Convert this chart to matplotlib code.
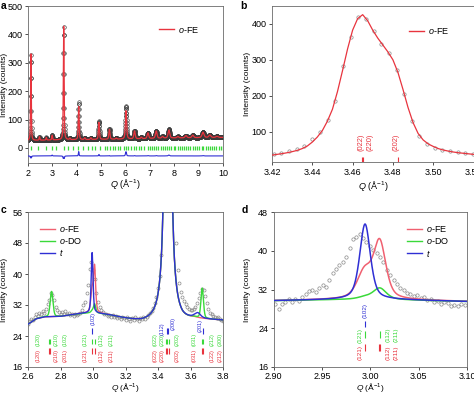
import numpy as np
import matplotlib
matplotlib.use('Agg')
import matplotlib.pyplot as plt
from matplotlib.lines import Line2D

plt.rcParams['font.family'] = ['Liberation Sans', 'DejaVu Sans']
plt.rcParams['mathtext.fontset'] = 'custom'
plt.rcParams['mathtext.it'] = 'Liberation Sans:italic'
plt.rcParams['mathtext.rm'] = 'Liberation Sans'
plt.rcParams['mathtext.sf'] = 'Liberation Sans'

RED = '#e8343e'
RED2 = '#f06070'
GREEN = '#3ad93a'
BLUE = '#2f2fd4'
OBS = '#8a8a8a'

# ---------------- data: panel a (full pattern, o-FE fit) ----------------
a_bg_q = [2, 3, 4, 5, 6, 7, 8, 9, 10]
a_bg_i = [26, 28, 29, 30, 31, 33, 35, 36, 37]
a_peak_q = [2.12, 2.47, 2.75, 2.99, 3.465, 3.72, 4.08, 4.33, 4.58, 4.91, 5.34, 5.62,
            6.02, 6.37, 6.65, 6.92, 7.26, 7.52, 7.78, 8.15, 8.48, 8.76, 9.18, 9.46, 9.75]
a_fit_h = [305, 12, 9, 16, 400, 5, 117, 6, 6, 60, 35, 4,
           100, 28, 5, 20, 26, 6, 28, 5, 8, 9, 19, 9, 4]
a_obs_h = [302, 12, 9, 19, 396, 5, 132, 6, 6, 65, 36, 4,
           115, 29, 5, 21, 27, 6, 31, 5, 8, 9, 20, 9, 4]
a_hwhm = [0.016, 0.018, 0.018, 0.019, 0.018, 0.022, 0.02, 0.024, 0.024, 0.024, 0.026, 0.028,
          0.03, 0.032, 0.034, 0.036, 0.038, 0.038, 0.04, 0.042, 0.044, 0.044, 0.05, 0.05, 0.05]
a_refl = [2.12, 2.42, 2.73, 3.0, 3.14, 3.46, 3.66, 3.86, 4.07, 4.27, 4.48, 4.62, 4.75, 4.96,
          5.16, 5.26, 5.37, 5.48, 5.58, 5.69, 5.78, 5.92, 6.02, 6.12, 6.22, 6.33, 6.43, 6.55,
          6.65, 6.74, 6.92, 7.0, 7.08, 7.16, 7.26, 7.35, 7.44, 7.53, 7.62, 7.70, 7.78, 7.88,
          7.97, 8.05, 8.14, 8.22, 8.30, 8.40, 8.48, 8.57, 8.66, 8.76, 8.85, 8.94, 9.03, 9.12,
          9.20, 9.30, 9.38, 9.47, 9.56, 9.64, 9.73, 9.82, 9.90, 9.98]
a_xticks = [2, 3, 4, 5, 6, 7, 8, 9, 10]
a_yticks = [0, 100, 200, 300, 400, 500]

# ---------------- data: panel b ----------------
b_fit_q = np.linspace(3.42, 3.52, 41)
b_fit_i = [36, 38, 40, 42.5, 45.5, 49, 54, 61, 72, 86, 104, 130, 163, 212, 270, 330,
           382, 414, 425, 408, 382, 360, 341, 322, 300, 265, 218, 168, 126, 96, 78, 67,
           60, 54, 50, 47, 44.5, 42.5, 41, 39.5, 38]
b_obs_q = [3.4208, 3.4246, 3.4286, 3.4324, 3.4361, 3.4399, 3.4439, 3.4477, 3.4515, 3.4553,
           3.4590, 3.4628, 3.4666, 3.4704, 3.4742, 3.4780, 3.4818, 3.4856, 3.4893, 3.4931,
           3.4969, 3.5007, 3.5045, 3.5083, 3.5121, 3.5159, 3.5197]
b_obs_i = [40, 43, 47, 53, 62, 80, 100, 132, 185, 282, 362, 418, 414, 380, 345, 318, 272,
           205, 130, 90, 68, 57, 51, 47, 44, 41, 39]
b_refl_q = [3.4647, 3.4653, 3.4823]
b_hkl_q = [3.4643, 3.4685, 3.4815]
b_hkl = ['(022)', '(220)', '(202)']
b_xticks = [3.42, 3.44, 3.46, 3.48, 3.50, 3.52]
b_xlabels = ['3.42', '3.44', '3.46', '3.48', '3.50', '3.52']
b_yticks = [100, 200, 300, 400]

# ---------------- data: panels c and d (common model) ----------------
cd_bg_q = [2.60, 2.65, 2.70, 2.80, 2.90, 3.00, 3.10, 3.20, 3.30, 3.38, 3.55, 3.62, 3.70, 3.80]
cd_bg_i = [27.0, 28.4, 28.9, 29.0, 29.6, 29.9, 29.3, 28.3, 27.4, 27.2, 27.1, 28.0, 28.0, 27.9]
# big common reflection (q0, amplitude, hwhm, eta)
big_peak = (3.4605, 400.0, 0.0085, 1.0)
fe_peaks = [(2.994, 5.5, 0.009, 0.5), (3.0097, 11.5, 0.0075, 0.5)]
do_peaks = [(2.745, 6.5, 0.010, 0.3), (2.994, 0.4, 0.008, 0.5), (3.0097, 2.3, 0.008, 0.5),
            (3.672, 7.7, 0.009, 0.3)]
t_peaks = [(2.9945, 15.5, 0.0065, 0.5), (3.645, 1.2, 0.02, 0.5)]

c_obs_q = np.linspace(2.60, 3.80, 121)
c_obs_i = [27.2, 27.8, 28.5, 28.2, 29.0, 29.6, 29.2, 30.0, 29.6, 30.4,
           30.0, 31.0, 32.2, 33.4, 35.0, 34.6, 33.2, 31.6, 30.6, 30.2,
           29.6, 30.2, 29.8, 30.4, 29.6, 30.0, 29.4, 29.8, 29.2, 29.6,
           29.5, 29.8, 30.0, 30.8, 32.0, 32.8, 35.2, 37.2, 41.4, 43.0,
           41.0, 38.8, 35.2, 32.8, 31.4, 30.6, 30.2, 29.6, 29.8, 29.2,
           29.4, 29.0, 29.4, 28.8, 29.2, 28.6, 28.9, 28.4, 29.0, 28.6,
           28.2, 28.8, 28.4, 28.0, 28.6, 28.2, 28.8, 28.3, 28.0, 28.7,
           28.4, 28.9, 28.5, 29.0, 29.4, 29.9, 30.4, 31.2, 32.4, 34.0,
           36.4, 39.6, 45.0, 57.0, 120, 260, 410, 380, 290, 120,
           58.0, 48.0, 41.0, 37.6, 35.4, 34.0, 33.0, 32.2, 31.6, 31.0,
           30.8, 30.6, 31.0, 31.4, 32.4, 33.8, 35.2, 36.2, 36.0, 34.4,
           32.6, 31.0, 30.0, 29.6, 29.2, 29.0, 28.6, 28.8, 28.4, 28.2, 28.0]

d_obs_q = [2.9015, 2.9050, 2.9085, 2.9120, 2.9155, 2.9190, 2.9225, 2.9260, 2.9295, 2.9330,
           2.9365, 2.9400, 2.9435, 2.9470, 2.9505, 2.9540, 2.9575, 2.9610, 2.9645, 2.9680,
           2.9715, 2.9750, 2.9785, 2.9820, 2.9855, 2.9890, 2.9925, 2.9960, 2.9995, 3.0030,
           3.0065, 3.0100, 3.0135, 3.0170, 3.0205, 3.0240, 3.0275, 3.0310, 3.0345, 3.0380,
           3.0415, 3.0450, 3.0485, 3.0520, 3.0555, 3.0590, 3.0625, 3.0660, 3.0695, 3.0730,
           3.0765, 3.0800, 3.0835, 3.0870, 3.0905, 3.0940, 3.0975]
d_obs_i = [29.0, 27.9, 29.1, 29.4, 30.1, 29.5, 30.0, 29.6, 30.4, 31.0,
           31.6, 32.0, 31.4, 32.4, 32.9, 32.5, 34.0, 35.4, 36.2, 37.0,
           37.6, 38.8, 40.6, 42.4, 42.8, 43.4, 42.6, 41.8, 41.0, 40.2,
           39.6, 38.8, 37.6, 36.0, 35.0, 34.0, 33.2, 32.4, 32.0, 31.3,
           31.0, 30.6, 30.8, 30.2, 30.4, 29.8, 30.0, 29.4, 29.7, 29.0,
           29.5, 29.2, 28.6, 28.8, 28.5, 29.0, 28.8]

# reflection tick marks (q) and hkl labels (q, text, y) for panel c
c_ticks_fe = [2.728, 2.738, 2.994, 3.0097, 3.452, 3.458, 3.466, 3.668, 3.676]
c_ticks_do = [2.728, 2.738, 2.994, 3.0097, 3.452, 3.458, 3.466, 3.668, 3.676]
c_ticks_t = [2.9945, 3.455, 3.462, 3.676]
c_lab_fe = [(2.663, '(120)'), (2.776, '(210)'), (2.828, '(201)'), (2.951, '(121)'),
            (3.049, '(112)'), (3.111, '(211)'), (3.380, '(022)'), (3.428, '(220)'),
            (3.515, '(202)'), (3.622, '(031)'), (3.734, '(122)'), (3.782, '(212)')]
c_lab_do = [(2.663, '(120)'), (2.776, '(210)'), (2.828, '(102)'), (2.951, '(121)'),
            (3.049, '(112)'), (3.111, '(211)'), (3.380, '(022)'), (3.428, '(220)'),
            (3.515, '(202)'), (3.622, '(031)'), (3.734, '(212)'), (3.782, '(300)')]
c_lab_t = [(3.002, '(102)', 28.6), (3.425, '(112)', 25.9), (3.495, '(200)', 27.1),
           (3.662, '(201)', 26.8)]
c_xticks = [2.6, 2.8, 3.0, 3.2, 3.4, 3.6, 3.8]
c_xlabels = ['2.6', '2.8', '3.0', '3.2', '3.4', '3.6', '3.8']
c_yticks = [16, 24, 32, 40, 48, 56]

d_ticks_fe = [2.9942, 3.0094, 3.0101]
d_ticks_do = [2.9942, 3.0097]
d_ticks_t = [2.9945]
d_lab_fe = [(2.9893, '(121)'), (3.0180, '(112)'), (3.0270, '(211)')]
d_lab_do = [(2.9897, '(121)'), (3.0180, '(112)'), (3.0270, '(211)')]
d_lab_t = [(2.9948, '(102)')]
d_xticks = [2.90, 2.95, 3.00, 3.05, 3.10]
d_xlabels = ['2.90', '2.95', '3.00', '3.05', '3.10']
d_yticks = [16, 24, 32, 40, 48]

legend_names = [r'$o$-FE', r'$o$-DO', r'$t$']


# ---------------- helpers ----------------
def pv(q, q0, amp, hw, eta):
    x = (q - q0) / hw
    return amp * (eta / (1 + x ** 2) + (1 - eta) * np.exp(-np.log(2) * x ** 2))


def cd_model(q, peaks):
    y = np.interp(q, cd_bg_q, cd_bg_i) + pv(q, *big_peak)
    for p in peaks:
        y = y + pv(q, *p)
    return y


W, H = 474.0, 394.0


def rect(l, t, r, b):
    return [l / W, 1 - b / H, (r - l) / W, (b - t) / H]


def style(ax, xpad=1.5):
    for s in ax.spines.values():
        s.set_color('#6a6a6a')
        s.set_linewidth(0.6)
    ax.tick_params(direction='out', length=2.5, width=0.6, labelsize=6.5,
                   colors='#333333', pad=1.5)
    ax.tick_params(axis='x', pad=xpad)
    ax.tick_params(axis='both', labelcolor='black')


def ylab(ax, x):
    ax.set_ylabel('Intensity (counts)', fontsize=6)
    ax.yaxis.set_label_coords(x, 0.5)


def xlab(ax, y, fs=6.5):
    ax.set_xlabel(r'$Q$ (Å$^{-1}$)', fontsize=fs)
    ax.xaxis.set_label_coords(0.5, y)


def leg(ax, n, x, y, colors):
    hs = [Line2D([], [], color=c, lw=1.0) for c in colors]
    ax.legend(hs, legend_names[:n], loc='upper left', bbox_to_anchor=(x, y),
              frameon=False, fontsize=6.5, handlelength=1.7, handletextpad=0.4,
              borderpad=0, borderaxespad=0, labelspacing=0.18)


fig = plt.figure(figsize=(4.74, 3.94), dpi=100)

# ---------------- panel a ----------------
ax = fig.add_axes(rect(28, 6, 223, 163))
qa = np.linspace(2, 10, 1601)
bga = np.interp(qa, a_bg_q, a_bg_i)
fit_a = bga.copy()
obs_a = bga.copy()
for p, hf, ho, w in zip(a_peak_q, a_fit_h, a_obs_h, a_hwhm):
    fit_a = fit_a + pv(qa, p, hf, w, 0.5)
    obs_a = obs_a + pv(qa, p, ho, w * 0.97, 0.5)
ax.plot(qa, obs_a, 'o', ms=2.6, mfc='none', mec='#3a3a3a', mew=0.45, zorder=2)
ax.plot(qa, fit_a, color=RED, lw=0.9, zorder=3)
ax.vlines(a_refl, -7, 7, color=GREEN, lw=0.9, zorder=3)
ax.plot(qa, obs_a - fit_a - 28, color=BLUE, lw=0.8, zorder=3)
ax.set_xlim(2, 10)
ax.set_ylim(-53, 500)
ax.set_xticks(a_xticks)
ax.set_yticks(a_yticks)
style(ax)
ylab(ax, -0.103)
xlab(ax, -0.089)
leg(ax, 1, 0.672, 0.882, [RED])

# ---------------- panel b ----------------
ax = fig.add_axes(rect(272, 6, 473.5, 162.3))
ax.plot(b_obs_q, b_obs_i, 'o', ms=2.4, mfc='none', mec=OBS, mew=0.5, zorder=2)
ax.plot(b_fit_q, b_fit_i, color=RED, lw=0.9, zorder=3)
ax.vlines(b_refl_q, 16, 31, color=RED, lw=0.8, zorder=3)
for q, t in zip(b_hkl_q, b_hkl):
    ax.text(q, 70, t, rotation=90, ha='center', va='center', color=RED, fontsize=5.4)
ax.set_xlim(3.42, 3.52)
ax.set_ylim(16, 449)
ax.set_xticks(b_xticks)
ax.set_xticklabels(b_xlabels)
ax.set_yticks(b_yticks)
style(ax)
ylab(ax, -0.104)
xlab(ax, -0.104)
leg(ax, 1, 0.680, 0.871, [RED])

# ---------------- panel c ----------------
ax = fig.add_axes(rect(28, 212, 223, 367))
qc = np.linspace(2.6, 3.8, 2401)
ax.plot(c_obs_q, c_obs_i, 'o', ms=2.2, mfc='none', mec=OBS, mew=0.5, zorder=2)
ax.plot(qc, cd_model(qc, fe_peaks), color=RED2, lw=1.0, zorder=3)
ax.plot(qc, cd_model(qc, do_peaks), color=GREEN, lw=1.0, zorder=4)
ax.plot(qc, cd_model(qc, t_peaks), color=BLUE, lw=1.0, zorder=5)
ax.vlines(c_ticks_fe, 19.4, 20.9, color=RED, lw=0.8)
ax.vlines(c_ticks_do, 22.0, 23.3, color=GREEN, lw=0.8)
ax.vlines(c_ticks_t, 24.5, 26.0, color=BLUE, lw=0.8)
for q, t in c_lab_fe:
    ax.text(q, 19.0, t, rotation=90, ha='center', va='center', color=RED, fontsize=4.0)
for q, t in c_lab_do:
    ax.text(q, 23.0, t, rotation=90, ha='center', va='center', color=GREEN, fontsize=4.0)
for q, t, y in c_lab_t:
    ax.text(q, y, t, rotation=90, ha='center', va='center', color=BLUE, fontsize=4.0)
ax.set_xlim(2.6, 3.8)
ax.set_ylim(16, 56)
ax.set_xticks(c_xticks)
ax.set_xticklabels(c_xlabels)
ax.set_yticks(c_yticks)
style(ax, xpad=1.0)
ylab(ax, -0.103)
xlab(ax, -0.092, 6.0)
leg(ax, 3, 0.0615, 0.922, [RED2, GREEN, BLUE])

# ---------------- panel d ----------------
ax = fig.add_axes(rect(273.7, 212, 467, 367))
qd = np.linspace(2.9, 3.1, 801)
ax.plot(d_obs_q, d_obs_i, 'o', ms=2.4, mfc='none', mec=OBS, mew=0.5, zorder=2)
ax.plot(qd, cd_model(qd, fe_peaks), color=RED2, lw=1.1, zorder=3)
ax.plot(qd, cd_model(qd, do_peaks), color=GREEN, lw=1.1, zorder=4)
ax.plot(qd, cd_model(qd, t_peaks), color=BLUE, lw=1.1, zorder=5)
ax.vlines(d_ticks_fe, 19.3, 20.7, color=RED, lw=0.8)
ax.vlines(d_ticks_do, 22.0, 23.4, color=GREEN, lw=0.8)
ax.vlines(d_ticks_t, 24.2, 25.6, color=BLUE, lw=0.8)
for q, t in d_lab_fe:
    ax.text(q, 18.9, t, rotation=90, ha='center', va='center', color=RED, fontsize=4.6)
for q, t in d_lab_do:
    ax.text(q, 22.6, t, rotation=90, ha='center', va='center', color=GREEN, fontsize=4.6)
for q, t in d_lab_t:
    ax.text(q, 27.7, t, rotation=90, ha='center', va='center', color=BLUE, fontsize=4.6)
ax.set_xlim(2.9, 3.1)
ax.set_ylim(16, 48)
ax.set_xticks(d_xticks)
ax.set_xticklabels(d_xlabels)
ax.set_yticks(d_yticks)
style(ax, xpad=1.0)
ylab(ax, -0.117)
xlab(ax, -0.092, 6.0)
leg(ax, 3, 0.69, 0.92, [RED2, GREEN, BLUE])

# panel letters
for x, y, t in [(1, 1, 'a'), (240, 1, 'b'), (1, 205, 'c'), (242, 205, 'd')]:
    fig.text(x / W, 1 - y / H, t, fontsize=7.5, fontweight='bold', ha='left', va='top')

fig.savefig('out.png', dpi=100)
